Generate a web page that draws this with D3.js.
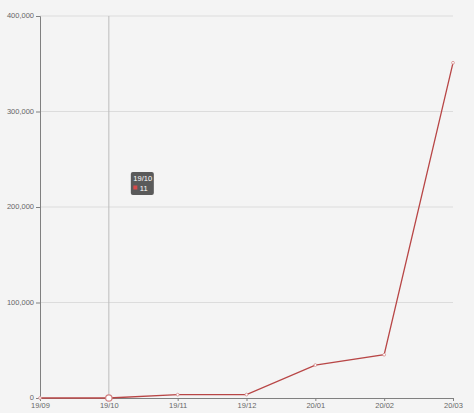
<!DOCTYPE html>
<html>
<head>
<meta charset="utf-8">
<script src="https://cdn.jsdelivr.net/npm/d3@7"></script>
<style>
  html, body { margin: 0; padding: 0; background: #f4f4f4; }
  svg { display: block; font-family: "Liberation Sans", Arial, sans-serif; }
</style>
</head>
<body>
<div id="chart"></div>
<script>
// Data
const months = ["19/09", "19/10", "19/11", "19/12", "20/01", "20/02", "20/03"];
const values = [0, 11, 3500, 3600, 34500, 45300, 351000];
const yTicks = [0, 100000, 200000, 300000, 400000];
const hoverIndex = 1;

const w = 474;
const h = 413;
const margin = { top: 16, right: 21, bottom: 15, left: 40 };
const lineColor = "#b84646";

const xScale = d3.scalePoint()
  .domain(months)
  .range([margin.left, w - margin.right]);

const yScale = d3.scaleLinear()
  .domain([0, 400000])
  .range([h - margin.bottom, margin.top]);

const svg = d3.select("#chart")
  .append("svg")
  .attr("width", w)
  .attr("height", h);

// Grid lines
svg.append("g")
  .selectAll("line")
  .data(yTicks.slice(1))
  .enter()
  .append("line")
  .attr("x1", margin.left)
  .attr("x2", w - margin.right)
  .attr("y1", d => yScale(d))
  .attr("y2", d => yScale(d))
  .attr("stroke", "#dcdcdc")
  .attr("stroke-width", 1);

// Hover line
svg.append("line")
  .attr("x1", xScale(months[hoverIndex]))
  .attr("x2", xScale(months[hoverIndex]))
  .attr("y1", yScale(400000))
  .attr("y2", yScale(0))
  .attr("stroke", "#bdbdbd")
  .attr("stroke-width", 1);

// Axes
const yAxis = d3.axisLeft(yScale)
  .tickValues(yTicks)
  .tickSize(4)
  .tickPadding(2)
  .tickFormat(d3.format(","));

const xAxis = d3.axisBottom(xScale)
  .tickSize(3)
  .tickPadding(2);

const gy = svg.append("g")
  .attr("transform", "translate(" + margin.left + ",0)")
  .call(yAxis);

const gx = svg.append("g")
  .attr("transform", "translate(0," + (h - margin.bottom) + ")")
  .call(xAxis);

[gx, gy].forEach(g => {
  g.select(".domain").attr("stroke", "#808080");
  g.selectAll(".tick line").attr("stroke", "#808080");
  g.selectAll("text")
    .attr("fill", "#666")
    .style("font-size", "7.5px");
});
gy.selectAll(".tick text").attr("dy", "0.2em");

// Line
const line = d3.line()
  .x((d, i) => xScale(months[i]))
  .y(d => yScale(d));

svg.append("path")
  .datum(values)
  .attr("d", line)
  .attr("fill", "none")
  .attr("stroke", lineColor)
  .attr("stroke-width", 1.3);

// Points
svg.append("g")
  .selectAll("circle")
  .data(values)
  .enter()
  .append("circle")
  .attr("cx", (d, i) => xScale(months[i]))
  .attr("cy", d => yScale(d))
  .attr("r", (d, i) => i === hoverIndex ? 3.2 : 1.4)
  .attr("fill", "#fff")
  .attr("stroke", (d, i) => i === hoverIndex ? "#d08080" : "#d48a8a")
  .attr("stroke-width", (d, i) => i === hoverIndex ? 1.2 : 0.8);

// Tooltip
const tipX = xScale(months[hoverIndex]) + 22;
const tipY = 172;
const tip = svg.append("g").attr("transform", "translate(" + tipX + "," + tipY + ")");

tip.append("rect")
  .attr("width", 23)
  .attr("height", 23)
  .attr("rx", 2)
  .attr("fill", "#5a5a5a");

tip.append("text")
  .attr("x", 2.5)
  .attr("y", 8.5)
  .attr("fill", "#fff")
  .style("font-size", "7.5px")
  .text(months[hoverIndex]);

tip.append("rect")
  .attr("x", 2.5)
  .attr("y", 13.5)
  .attr("width", 4)
  .attr("height", 4)
  .attr("fill", "#d84a4a");

tip.append("text")
  .attr("x", 9)
  .attr("y", 18.5)
  .attr("fill", "#fff")
  .style("font-size", "7.5px")
  .text(values[hoverIndex]);
</script>
</body>
</html>
